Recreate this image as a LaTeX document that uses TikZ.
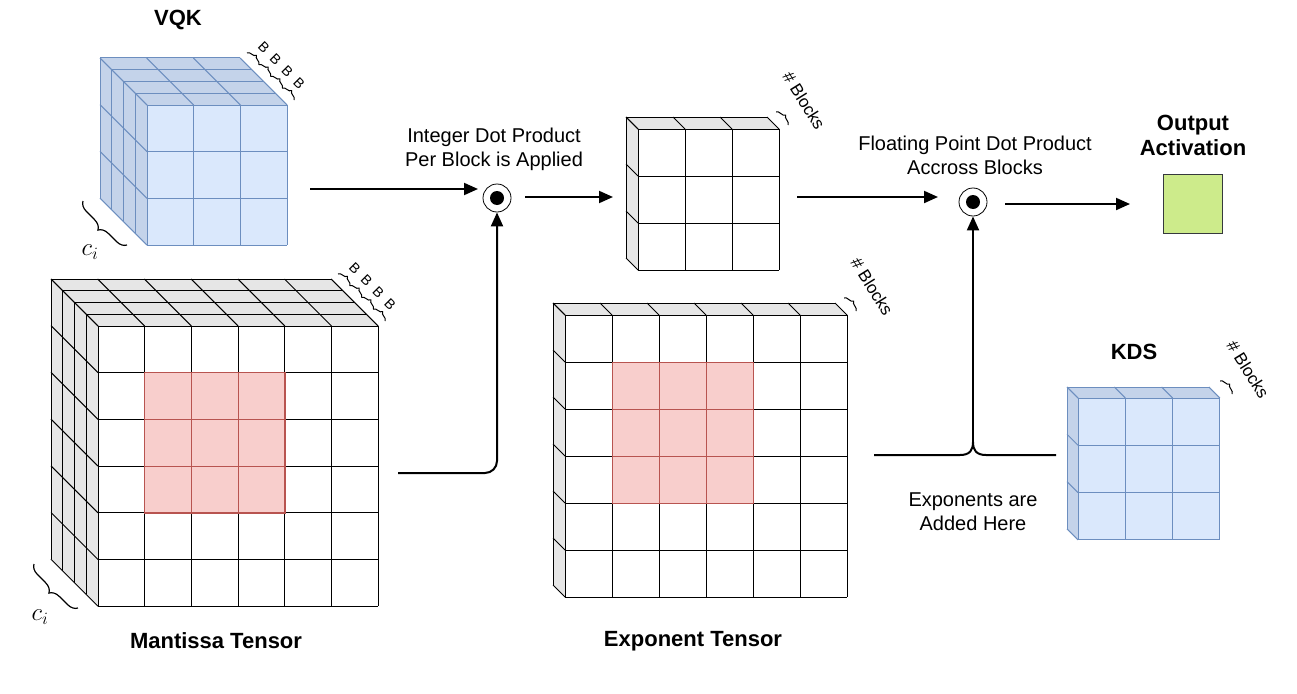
\documentclass[tikz,border=0pt]{standalone}
\usepackage{fontspec}
\setmainfont{Liberation Sans}
\usetikzlibrary{arrows.meta,decorations.pathreplacing}
\definecolor{bfill}{HTML}{DAE8FC}\definecolor{bside}{HTML}{C4D3EA}\definecolor{bline}{HTML}{6C8EBF}
\definecolor{gside}{HTML}{E6E6E6}
\definecolor{rfill}{HTML}{F8CECC}\definecolor{rline}{HTML}{B85450}
\definecolor{gfill}{HTML}{CDEB8B}\definecolor{gline}{HTML}{36393D}
\tikzset{
 blue front/.style={fill=bfill},blue side/.style={fill=bside},blue line/.style={draw=bline,line width=1pt},
 gray front/.style={fill=white},gray side/.style={fill=gside},gray line/.style={draw=black,line width=1pt},
 arr/.style={-{Triangle[length=14pt,width=12pt]},line width=2pt},
 lbl/.style={font=\fontsize{20}{24}\selectfont,align=center},
 ttl/.style={font=\fontsize{22}{25}\selectfont\bfseries,align=center},
 br/.style={decorate,decoration={brace,amplitude=5pt,mirror},line width=1pt},
 bigbr/.style={decorate,decoration={brace,amplitude=10pt},line width=1.2pt},
 dotc/.style={circle,draw,minimum size=28pt,inner sep=0pt,line width=0.8pt},
 blk/.style={font=\fontsize{17}{18}\selectfont,rotate=-58},
}
\newcommand{\tbox}[8]{%
 \pgfmathsetmacro\W{#3*#5}\pgfmathsetmacro\H{#4*#5}\pgfmathsetmacro\D{#6*#7}%
 \fill[#8 side] (#1,#2)--({#1+\W},#2)--({#1+\W-\D},{#2-\D})--({#1-\D},{#2-\D})--cycle;
 \fill[#8 side] (#1,#2)--(#1,{#2+\H})--({#1-\D},{#2+\H-\D})--({#1-\D},{#2-\D})--cycle;
 \fill[#8 front] (#1,#2) rectangle ({#1+\W},{#2+\H});
 \foreach \j in {0,...,#3}{\draw[#8 line] ({#1+\j*#5},#2)--({#1+\j*#5-\D},{#2-\D});}
 \foreach \i in {0,...,#4}{\draw[#8 line] (#1,{#2+\i*#5})--({#1-\D},{#2+\i*#5-\D});}
 \foreach \k in {0,...,#6}{\draw[#8 line] ({#1-\k*#7},{#2-\k*#7})--({#1+\W-\k*#7},{#2-\k*#7});
   \draw[#8 line] ({#1-\k*#7},{#2-\k*#7})--({#1-\k*#7},{#2+\H-\k*#7});}
 \foreach \j in {0,...,#3}{\draw[#8 line] ({#1+\j*#5},#2)--({#1+\j*#5},{#2+\H});}
 \foreach \i in {0,...,#4}{\draw[#8 line] (#1,{#2+\i*#5})--({#1+\W},{#2+\i*#5});}
}
\newcommand{\redblk}[3]{%
 \foreach \i in {1,2,3}{\foreach \j in {1,2,3}{
  \filldraw[fill=rfill,draw=rline,line width=0.6pt] ({#1+\j*#3},{#2+\i*#3}) rectangle ++(#3,#3);}}
 \draw[rline,line width=0.8pt] ({#1+#3},{#2+#3}) rectangle ++({3*#3},{3*#3});
}
\newcommand{\bbr}[3]{%
 \foreach \k in {0,...,3}{
  \draw[br] ({#1-\k*#3+7},{#2-\k*#3-5}) -- ({#1-(\k+1)*#3+7},{#2-(\k+1)*#3-5})
    node[midway,xshift=11pt,yshift=11pt,rotate=-45,font=\fontsize{14}{15}\selectfont]{B};}
}
\begin{document}
\begin{tikzpicture}[x=1pt,y=-1pt]
\useasboundingbox (0,0) rectangle (1297,693);
% VQK
\tbox{147}{105}{3}{3}{46.7}{4}{11.75}{blue}
\node[ttl] (tvqk) at (178,20) {VQK};
\bbr{287}{105}{11.75}
\draw[bigbr] (127,245)--(83,201);
\node[font=\fontsize{26}{28}\selectfont] (ci1) at (90,252) {$c_i$};
% Mantissa
\tbox{98}{326}{6}{6}{46.7}{4}{11.75}{gray}
\redblk{98}{326}{46.7}
\bbr{378}{326}{11.75}
\draw[bigbr] (78,608)--(34,564);
\node[font=\fontsize{26}{28}\selectfont] (ci2) at (40,617) {$c_i$};
\node[ttl] (tman) at (216,641) {Mantissa Tensor};
% middle
\tbox{638}{129}{3}{3}{47}{1}{12}{gray}
\draw[br] (788,125)--(776,112) node[midway,xshift=22pt,yshift=18pt,blk] (nb1) {\# Blocks};
% Exponent
\tbox{565}{315}{6}{6}{47}{1}{12}{gray}
\redblk{565}{315}{47}
\draw[br] (856,311)--(844,298) node[midway,xshift=22pt,yshift=18pt,blk] (nb2) {\# Blocks};
\node[ttl] (texp) at (693,641) {Exponent Tensor};
% KDS
\tbox{1078}{398}{3}{3}{47.3}{1}{11}{blue}
\draw[br] (1232,394)--(1220,381) node[midway,xshift=22pt,yshift=18pt,blk] (nb3) {\# Blocks};
\node[ttl] (tkds) at (1134,352) {KDS};
% operators
\node[dotc] (c1) at (497,198) {};
\fill (c1.center) circle (7);
\node[dotc] (c2) at (973,202) {};
\fill (c2.center) circle (7);
\node[lbl] (l1) at (494,149) {Integer Dot Product\\Per Block is Applied};
\node[lbl] (l2) at (975,155) {Floating Point Dot Product\\Accross Blocks};
\node[ttl] (tout) at (1193,135) {Output\\Activation};
\node[draw=gline,fill=gfill,line width=1pt,minimum size=59pt,inner sep=0pt] (out) at (1193,204) {};
\node[lbl] (l3) at (973,512) {Exponents are\\Added Here};
% connectors
\coordinate (a0) at (310,189); \coordinate (a1) at (478,189);
\draw[arr] (a0)--(a1);
\coordinate (m0) at (398,473);
\draw[arr,rounded corners=12pt] (m0) -| (c1.south);
\coordinate (b0) at (525,197); \coordinate (b1) at (613,197);
\draw[arr] (b0)--(b1);
\coordinate (d0) at (797,197); \coordinate (d1) at (938,197);
\draw[arr] (d0)--(d1);
\coordinate (e0) at (1005,204); \coordinate (e1) at (1130,204);
\draw[arr] (e0)--(e1);
\coordinate (k0) at (874,455); \coordinate (k1) at (1056,455); \coordinate (kt) at (973,442);
\draw[line width=2pt] (k0)--(960,455) .. controls (970,455) and (973,450) .. (kt) .. controls (973,450) and (976,455) .. (986,455)--(k1);
\draw[arr] (kt)--(c2.south);
\end{tikzpicture}
\end{document}
